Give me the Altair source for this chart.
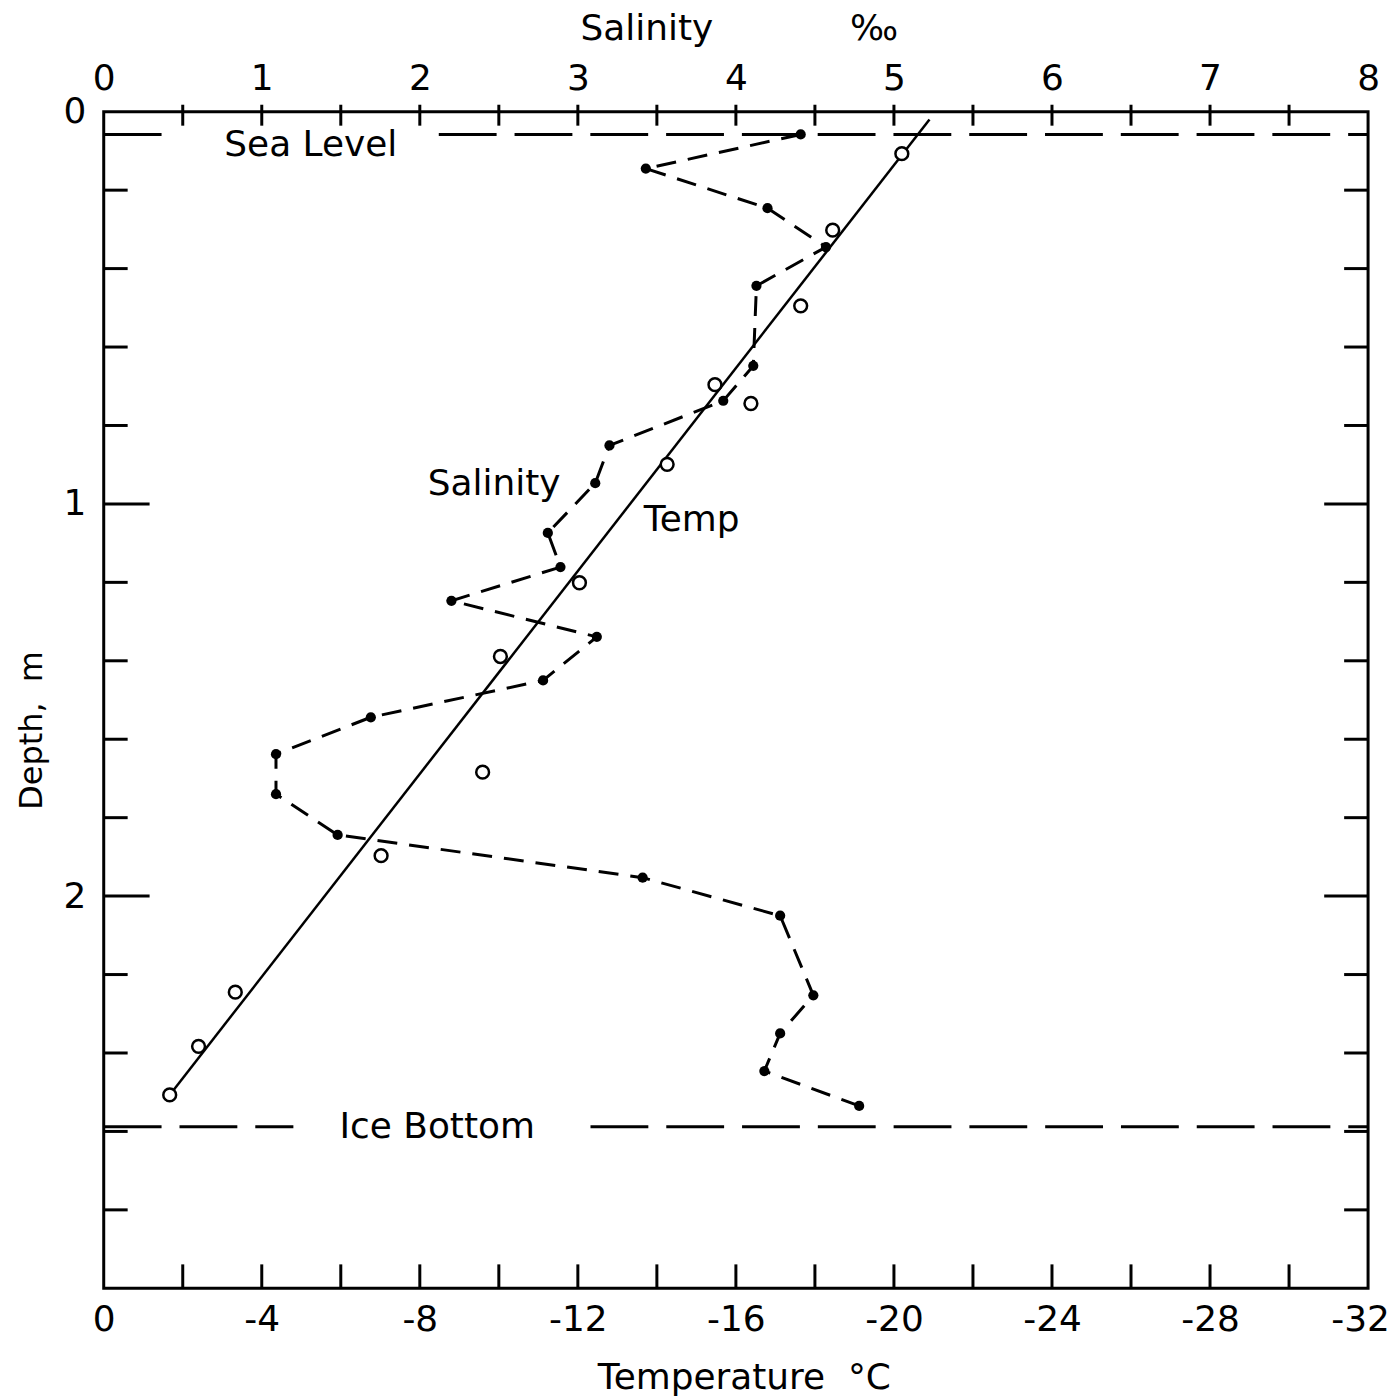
import altair as alt
import pandas as pd

# ---------------- data ----------------
# Salinity profile (per mil) against depth (m)
sal_depth = [0.058, 0.145, 0.246, 0.345, 0.444, 0.648, 0.737, 0.851, 0.947, 1.074,
             1.161, 1.247, 1.339, 1.450, 1.544, 1.638, 1.740, 1.844, 1.953, 2.050,
             2.253, 2.350, 2.446, 2.535]
sal_value = [4.41, 3.43, 4.20, 4.57, 4.13, 4.11, 3.92, 3.20, 3.11, 2.81,
             2.89, 2.20, 3.12, 2.78, 1.69, 1.09, 1.09, 1.48, 3.41, 4.28,
             4.49, 4.28, 4.18, 4.78]

# Temperature observations (deg C) against depth (m)
temp_depth = [0.107, 0.302, 0.495, 0.696, 0.744, 0.899, 1.201, 1.389, 1.684, 1.897,
              2.245, 2.383, 2.507]
temp_value = [-20.2, -18.45, -17.64, -15.47, -16.38, -14.26, -12.04, -10.04, -9.59, -7.02,
              -3.33, -2.40, -1.67]

# Straight line drawn through the temperatures
fit_depth = [0.02, 2.507]
fit_temp = [-20.9, -1.67]

# Reference levels (depth, salinity-scale start/end of each dashed piece)
level_depth = [0.058, 0.058, 2.588, 2.588]
level_start = [0.0, 2.12, 0.0, 3.08]
level_end = [0.45, 8.0, 1.20, 8.0]

# In-plot labels
label_text = ["Sea Level", "Ice Bottom", "Salinity", "Temp"]
label_sal = [1.31, 2.11, 2.47, 3.72]
label_depth = [0.084, 2.588, 0.950, 1.040]

# Axis tick values
sal_labels = [0, 1, 2, 3, 4, 5, 6, 7, 8]
temp_labels = [0, -4, -8, -12, -16, -20, -24, -28, -32]
depth_labels = [0, 1, 2]
sal_ticks = [0.5, 1, 1.5, 2, 2.5, 3, 3.5, 4, 4.5, 5, 5.5, 6, 6.5, 7, 7.5]
temp_ticks = [-2, -4, -6, -8, -10, -12, -14, -16, -18, -20, -22, -24, -26, -28, -30]
depth_minor = [0.2, 0.4, 0.6, 0.8, 1.2, 1.4, 1.6, 1.8, 2.2, 2.4, 2.6, 2.8]
depth_major = [1.0, 2.0]

# ---------------- tables ----------------
sal_df = pd.DataFrame({"order": range(len(sal_depth)), "depth": sal_depth, "sal": sal_value})
temp_df = pd.DataFrame({"depth": temp_depth, "temp": temp_value})
fit_df = pd.DataFrame({"order": [0, 1], "depth": fit_depth, "temp": fit_temp})
level_df = pd.DataFrame({"depth": level_depth, "s0": level_start, "s1": level_end})
label_df = pd.DataFrame({"text": label_text, "sal": label_sal, "depth": label_depth})
sal_tick_df = pd.DataFrame({"sal": sal_ticks})
temp_tick_df = pd.DataFrame({"temp": temp_ticks})
dminor_df = pd.DataFrame({"depth": depth_minor})
dmajor_df = pd.DataFrame({"depth": depth_major})

FONT = "DejaVu Sans"
W, H = 1268, 1180
NB = "\u00a0"

yscale = alt.Scale(domain=[0, 3], reverse=True, nice=False, zero=False)
sscale = alt.Scale(domain=[0, 8], nice=False, zero=False)
tscale = alt.Scale(domain=[0, -32], nice=False, zero=False)

yaxis = alt.Axis(values=depth_labels, format="d", ticks=False, tickSize=0, domain=False, grid=False,
                 labelFont=FONT, labelFontSize=36, labelColor="black", labelPadding=18,
                 title="Depth," + NB * 2 + "m", titleFont=FONT, titleFontSize=32,
                 titleFontWeight="normal", titleColor="black", titleAngle=-90,
                 titleX=-62, titleY=620, titleAlign="center", titleBaseline="alphabetic")

sal_axis = alt.Axis(orient="top", values=sal_labels, format="d", ticks=False, tickSize=0,
                    domain=False, grid=False, labelFont=FONT, labelFontSize=36,
                    labelColor="black", labelPadding=14, labelFlush=False, labelOverlap=False,
                    title="Salinity" + NB * 12 + "‰", titleFont=FONT, titleFontSize=36,
                    titleFontWeight="normal", titleColor="black", titleX=637, titleY=-72,
                    titleAlign="center", titleBaseline="alphabetic")

temp_axis = alt.Axis(orient="bottom", values=temp_labels, ticks=False, tickSize=0,
                     domain=False, grid=False, labelFont=FONT, labelFontSize=36,
                     labelColor="black", labelPadding=14, labelFlush=False, labelOverlap=False,
                     labelOffset={"condition": {"test": "datum.value == -32", "value": -8},
                                  "value": 0},
                     labelExpr="datum.value == 0 ? '0' : '-' + abs(datum.value)",
                     title="Temperature" + NB * 2 + "°C", titleFont=FONT, titleFontSize=36,
                     titleFontWeight="normal", titleColor="black", titleX=642, titleY=100,
                     titleAlign="center", titleBaseline="alphabetic")


def Y(field="depth"):
    return alt.Y(f"{field}:Q", scale=yscale, axis=yaxis)


sal_line = alt.Chart(sal_df).mark_line(color="black", strokeWidth=3, strokeDash=[20, 12]).encode(
    x=alt.X("sal:Q", scale=sscale, axis=sal_axis), y=Y(), order="order:Q")

sal_pts = alt.Chart(sal_df).mark_circle(color="black", size=105, opacity=1).encode(
    x=alt.X("sal:Q", scale=sscale, axis=None), y=Y())

fit_line = alt.Chart(fit_df).mark_line(color="black", strokeWidth=2.5).encode(
    x=alt.X("temp:Q", scale=tscale, axis=temp_axis), y=Y(), order="order:Q")

temp_pts = alt.Chart(temp_df).mark_point(shape="circle", filled=True, fill="white", stroke="black",
                                         strokeWidth=2.5, size=165, opacity=1).encode(
    x=alt.X("temp:Q", scale=tscale, axis=None), y=Y())

levels = alt.Chart(level_df).mark_rule(color="black", strokeWidth=3, strokeDash=[58, 18]).encode(
    x=alt.X("s0:Q", scale=sscale, axis=None), x2="s1:Q", y=Y())

labels = alt.Chart(label_df).mark_text(font=FONT, fontSize=36, color="black",
                                       align="center", baseline="middle").encode(
    x=alt.X("sal:Q", scale=sscale, axis=None), y=Y(), text="text:N")

top_ticks = alt.Chart(sal_tick_df).mark_rule(color="black", strokeWidth=3).encode(
    x=alt.X("sal:Q", scale=sscale, axis=None), y=alt.value(-7), y2=alt.value(14))

bottom_ticks = alt.Chart(temp_tick_df).mark_rule(color="black", strokeWidth=3).encode(
    x=alt.X("temp:Q", scale=tscale, axis=None), y=alt.value(H - 24), y2=alt.value(H))

left_minor = alt.Chart(dminor_df).mark_rule(color="black", strokeWidth=3).encode(
    y=Y(), x=alt.value(0), x2=alt.value(24))
left_major = alt.Chart(dmajor_df).mark_rule(color="black", strokeWidth=3).encode(
    y=Y(), x=alt.value(0), x2=alt.value(46))
right_minor = alt.Chart(dminor_df).mark_rule(color="black", strokeWidth=3).encode(
    y=Y(), x=alt.value(W - 24), x2=alt.value(W))
right_major = alt.Chart(dmajor_df).mark_rule(color="black", strokeWidth=3).encode(
    y=Y(), x=alt.value(W - 44), x2=alt.value(W))

chart = alt.layer(
    sal_line, fit_line, levels, sal_pts, temp_pts, labels,
    top_ticks, bottom_ticks, left_minor, left_major, right_minor, right_major,
).resolve_scale(x="independent").properties(
    width=W, height=H,
    autosize=alt.AutoSizeParams(type="none"),
    padding={"left": 96, "top": 102, "right": 24, "bottom": 110},
    background="white",
).configure_view(stroke="black", strokeWidth=3)

chart.save("out.html", embed_options={"renderer": "svg", "actions": False})
